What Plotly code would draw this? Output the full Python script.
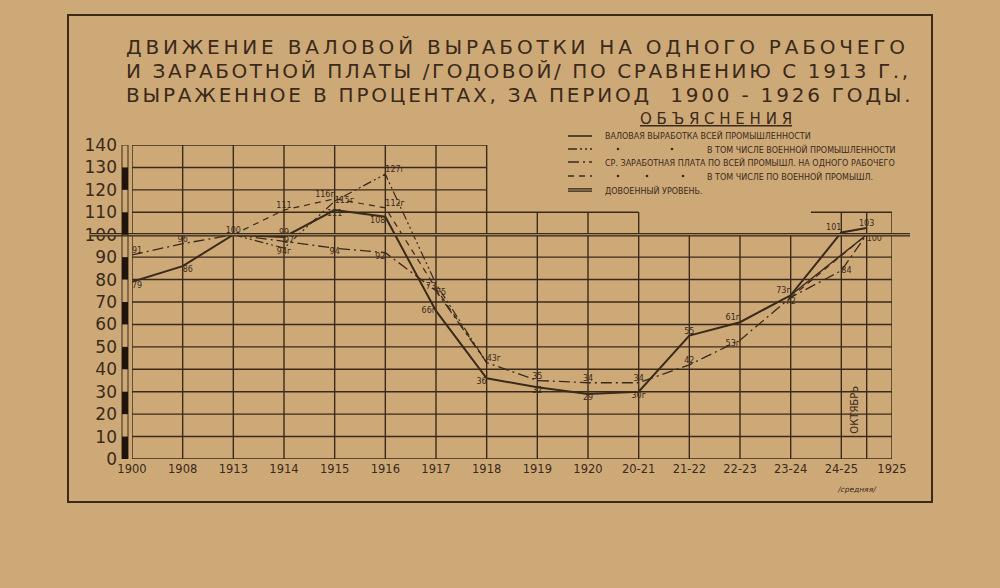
import plotly.graph_objects as go

# ---------------- data ----------------
tick_labels = ["1900", "1908", "1913", "1914", "1915", "1916", "1917", "1918", "1919",
               "1920", "20-21", "21-22", "22-23", "23-24", "24-25", "1925"]
periods = ["1900", "1908", "1913", "1914", "1915", "1916", "1917", "1918", "1919",
           "1920", "20-21", "21-22", "22-23", "23-24", "24-25", "X.1925"]

output_all = [79, 86, 100, 99, 111, 108, 66, 36, 32, 29, 30, 55, 61, 73, 101, 103]
output_all_labels = ["79", "86", "100", "99", "111", "108", "66г", "36", "32", "29", "30г",
                     "55", "61г", "73г", "101", "103"]

wage_all = [91, 96, 100, 97, 94, 92, 75, 43, 35, 34, 34, 42, 53, 72, 84, 100]
wage_all_labels = ["91", "96", "", "97", "94", "92", "73", "43г", "35", "34", "34", "42",
                   "53г", "72", "84", "100"]

mil_periods = ["1913", "1914", "1915", "1916", "1917", "1918"]
output_mil = [100, 94, 115, 127, 78, 43]
output_mil_labels = ["", "94г", "115г", "127г", "", ""]
wage_mil = [100, 111, 116, 112, 76, 43]
wage_mil_labels = ["", "111", "116г", "112г", "75", ""]

late_periods = ["23-24", "X.1925"]
output_late = [73, 100]
wage_late = [72, 100]

legend_texts = ["ВАЛОВАЯ ВЫРАБОТКА ВСЕЙ ПРОМЫШЛЕННОСТИ",
                "В ТОМ ЧИСЛЕ ВОЕННОЙ ПРОМЫШЛЕННОСТИ",
                "СР. ЗАРАБОТНАЯ ПЛАТА ПО ВСЕЙ ПРОМЫШЛ. НА ОДНОГО РАБОЧЕГО",
                "В ТОМ ЧИСЛЕ ПО ВОЕННОЙ ПРОМЫШЛ.",
                "ДОВОЕННЫЙ УРОВЕНЬ."]

title_lines = ["ДВИЖЕНИЕ ВАЛОВОЙ ВЫРАБОТКИ НА ОДНОГО РАБОЧЕГО",
               "И ЗАРАБОТНОЙ ПЛАТЫ /ГОДОВОЙ/ ПО СРАВНЕНИЮ С 1913 Г.,",
               "ВЫРАЖЕННОЕ В ПРОЦЕНТАХ, ЗА ПЕРИОД  1900 - 1926 ГОДЫ."]

# ---------------- styling ----------------
pos = {p: i for i, p in enumerate(periods[:-1])}
pos["X.1925"] = 14.5
BG = "#cea978"
INK = "#3a2a1a"
FONT = "DejaVu Sans"

L, R, T, B = 132, 108, 145, 129
PW, PH = 1000 - L - R, 588 - T - B


def px(xpix):
    return (xpix - L) / PW


def py(ypix):
    return (588 - B - ypix) / PH


DASH_DDOT = "9px,3px,2px,3px,2px,3px"
DASH_DOT = "11px,4px,2px,4px"
DASH = "6px,5px"

fig = go.Figure()


def add_series(keys, vals, labels, dash, width, positions=None):
    fig.add_trace(go.Scatter(
        x=[pos[k] for k in keys], y=vals,
        mode="lines+text" if labels else "lines",
        text=labels, textposition=positions,
        textfont=dict(family=FONT, size=8, color=INK),
        line=dict(color=INK, width=width, dash=dash),
        showlegend=False, hoverinfo="skip", cliponaxis=False))


add_series(periods, output_all, output_all_labels, "solid", 2,
           ["bottom right", "bottom right", "top center", "top center", "bottom center",
            "bottom left", "middle left", "bottom left", "bottom center", "bottom center",
            "bottom center", "top center", "top left", "top left", "top left", "top center"])
add_series(periods, wage_all, wage_all_labels, DASH_DOT, 1.3,
           ["top right", "top center", "top center", "middle right", "bottom center",
            "bottom left", "top left", "top right", "top center", "top center",
            "top center", "top center", "bottom left", "bottom center", "middle right",
            "bottom right"])
add_series(mil_periods, output_mil, output_mil_labels, DASH_DDOT, 1.2,
           ["top center", "bottom center", "middle right", "top right", "top center", "top center"])
add_series(mil_periods, wage_mil, wage_mil_labels, DASH, 1.2,
           ["top center", "top center", "top left", "top right", "bottom right", "top center"])
add_series(late_periods, output_late, None, "solid", 1.4)
add_series(late_periods, wage_late, None, DASH, 1.2)

shapes = []
GW = 1.4


def hline(y, x0, x1, w=GW):
    shapes.append(dict(type="line", xref="x", yref="y", x0=x0, x1=x1, y0=y, y1=y,
                       line=dict(color=INK, width=w), layer="below"))


def vline(x, y1):
    shapes.append(dict(type="line", xref="x", yref="y", x0=x, x1=x, y0=0, y1=y1,
                       line=dict(color=INK, width=GW), layer="below"))


for v in range(0, 100, 10):
    hline(v, 0, 15)
hline(110, 0, 10)
hline(110, 13.4, 15)
for v in (120, 130, 140):
    hline(v, 0, 7)
for i in range(0, 8):
    vline(i, 140)
for i in (8, 9, 10):
    vline(i, 110)
for i in (11, 12, 13):
    vline(i, 100)
for i in (14, 14.5, 15):
    vline(i, 110)

# pre-war level double line
shapes.append(dict(type="line", xref="paper", yref="y", x0=px(90), x1=px(910), y0=100, y1=100,
                   line=dict(color=INK, width=3.6)))
shapes.append(dict(type="line", xref="paper", yref="y", x0=px(90), x1=px(910), y0=100, y1=100,
                   line=dict(color=BG, width=0.9)))

# ruler bar
shapes.append(dict(type="rect", xref="paper", yref="y", x0=px(122), x1=px(128), y0=0, y1=140,
                   line=dict(color=INK, width=1), fillcolor="rgba(0,0,0,0)"))
for v in range(0, 140, 20):
    shapes.append(dict(type="rect", xref="paper", yref="y", x0=px(122), x1=px(128),
                       y0=v, y1=v + 10, line=dict(width=0), fillcolor="#1e140c"))

# outer frame
shapes.append(dict(type="rect", xref="paper", yref="paper", x0=px(68), x1=px(932),
                   y0=py(502), y1=py(15), line=dict(color=INK, width=2)))

# legend
leg_rows = [136, 149, 162, 176, 190]
leg_dash = ["solid", DASH_DDOT, DASH_DOT, DASH, "double"]
annotations = []
for row, d, txt, idx in zip(leg_rows, leg_dash, legend_texts, range(5)):
    if d == "double":
        shapes.append(dict(type="line", xref="paper", yref="paper", x0=px(568), x1=px(592),
                           y0=py(row), y1=py(row), line=dict(color=INK, width=3.6)))
        shapes.append(dict(type="line", xref="paper", yref="paper", x0=px(568), x1=px(592),
                           y0=py(row), y1=py(row), line=dict(color=BG, width=0.9)))
    else:
        shapes.append(dict(type="line", xref="paper", yref="paper", x0=px(568), x1=px(592),
                           y0=py(row), y1=py(row),
                           line=dict(color=INK, width=1.6 if d == "solid" else 1.3, dash=d)))
    tx = 705 if idx in (1, 3) else 603
    annotations.append(dict(xref="paper", yref="paper", x=px(tx), y=py(row), text=txt,
                            showarrow=False, xanchor="left", yanchor="middle",
                            font=dict(family=FONT, size=8, color=INK)))
# ditto marks as small dots
for row, xs in ((149, (618, 672)), (176, (618, 647, 683))):
    for xd in xs:
        shapes.append(dict(type="circle", xref="paper", yref="paper",
                           x0=px(xd - 1.3), x1=px(xd + 1.3), y0=py(row + 1.3), y1=py(row - 1.3),
                           fillcolor=INK, line=dict(width=0)))

annotations.append(dict(xref="paper", yref="paper", x=px(716), y=py(119), xanchor="center",
                        yanchor="middle",
                        text="<u>О Б Ъ Я С Н Е Н И Я</u>", showarrow=False,
                        font=dict(family=FONT, size=15, color=INK)))

# title (letter-spaced like the stencil lettering)
for ty, line, sp in zip((47, 71, 95), title_lines, (3.8, 2.6, 2.8)):
    annotations.append(dict(xref="paper", yref="paper", x=px(124), y=py(ty),
                            text=f'<span style="letter-spacing:{sp}px">{line}</span>',
                            showarrow=False, xanchor="left", yanchor="middle",
                            font=dict(family=FONT, size=20, color=INK)))

annotations.append(dict(xref="x", yref="y", x=14.27, y=22, text="ОКТЯБРЬ", textangle=-90,
                        showarrow=False, font=dict(family=FONT, size=10, color=INK)))
annotations.append(dict(xref="paper", yref="paper", x=px(857), y=py(489), xanchor="center",
                        yanchor="middle", text="<i>/средняя/</i>",
                        showarrow=False, font=dict(family=FONT, size=7.5, color=INK)))

fig.update_layout(
    width=1000, height=588,
    margin=dict(l=L, r=R, t=T, b=B),
    paper_bgcolor=BG, plot_bgcolor=BG,
    shapes=shapes, annotations=annotations,
    showlegend=False,
    xaxis=dict(range=[0, 15], tickvals=list(range(16)), ticktext=tick_labels,
               showgrid=False, zeroline=False, showline=False, ticks="",
               tickfont=dict(family=FONT, size=11.5, color=INK), ticklabelstandoff=1),
    yaxis=dict(range=[0, 140], tickvals=list(range(0, 141, 10)),
               showgrid=False, zeroline=False, showline=False, ticks="",
               tickfont=dict(family=FONT, size=17, color=INK), ticklabelstandoff=14),
)

fig.write_html(
    "out.html",
    config={"displayModeBar": False},
    post_script="document.body.style.margin='0';document.body.style.background='" + BG + "';",
)
